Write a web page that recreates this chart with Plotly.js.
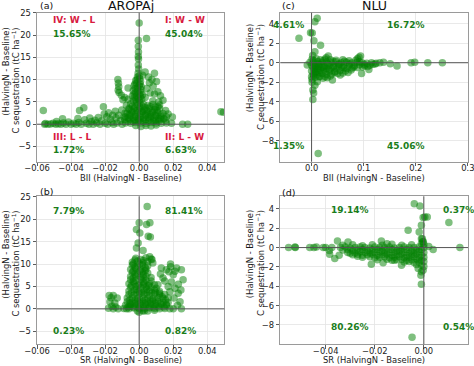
<!DOCTYPE html>
<html>
<head>
<meta charset="utf-8">
<script src="https://cdn.plot.ly/plotly-3.0.1.min.js"></script>
<style>html,body{margin:0;padding:0;background:#fff}#chart{width:474px;height:366px}</style>
</head>
<body>
<div id="chart"></div>
<script>
// ---- data: [x, y] pairs ----
// (a) AROPAj : BII change vs C sequestration change
const aropajBII = [
 [-0.0563,3.1],[-0.0555,0.0],[-0.055,0.15],[-0.0535,0.0],[-0.052,0.05],[-0.0505,0.2],[-0.049,0.0],[-0.0485,0.6],[-0.0475,0.1],[-0.046,0.0],[-0.045,1.2],[-0.0445,0.3],[-0.043,0.0],[-0.0415,0.5],[-0.04,0.0],[-0.0385,0.2],[-0.037,0.0],[-0.036,1.3],[-0.0355,0.4],[-0.035,3.1],[-0.034,0.0],[-0.0325,3.7],[-0.032,1.0],[-0.031,0.2],[-0.0295,0.0],[-0.029,1.4],[-0.028,0.6],[-0.027,0.0],[-0.026,0.9],[-0.025,0.3],[-0.024,1.5],[-0.023,0.0],[-0.022,0.8],[-0.021,3.9],[-0.0205,2.3],[-0.02,0.2],[-0.019,1.7],[-0.0185,0.0],[-0.018,2.6],[-0.017,1.1],[-0.016,0.4],[-0.0155,2.0],[-0.015,0.0],[-0.014,2.9],[-0.0135,1.4],[-0.013,0.3],[-0.012,2.0],[-0.011,0.8],[-0.0102,3.2],[-0.01,0.0],[-0.009,1.6],[-0.0082,2.5],
 [-0.0125,10.0],[-0.0122,9.2],[-0.012,8.4],[-0.0123,7.6],[-0.0118,7.1],[-0.0105,6.5],[-0.0095,5.5],[-0.0085,6.0],[-0.0075,4.2],[-0.0065,8.1],[-0.0065,5.6],[-0.006,3.5],[-0.005,4.6],
 [0.0,22.7],[-0.0005,18.8],[-0.0005,17.4],[-0.0004,16.2],[-0.0005,15.2],[-0.0004,14.6],[-0.0005,13.3],[-0.0003,12.4],[-0.0006,11.4],[-0.001,10.6],[0.0003,10.2],[-0.002,9.8],[-0.0015,9.2],[0.0005,9.0],[-0.003,8.6],[-0.001,8.2],[0.001,7.8],[-0.0035,7.5],[-0.002,7.1],[0.0,6.8],[0.002,6.6],[-0.004,6.3],[-0.0025,6.0],[-0.0005,5.8],[0.0015,5.6],[-0.0035,5.2],[-0.0015,5.0],[0.0005,4.8],[0.0025,4.5],
 [0.0,10.8],[-0.0012,10.0],[0.0008,9.6],[-0.0025,9.0],[0.0,8.6],[-0.0022,8.0],[0.0012,8.4],[-0.0008,7.4],[-0.003,6.8],[0.001,7.1],[-0.0015,6.4],[0.0008,6.2],[-0.002,5.5],[0.0,5.3],
 [0.0043,19.2],[0.0035,11.7],[0.002,11.0],[0.0055,10.6],[0.009,11.4],[0.0075,10.0],[0.0102,9.6],[0.0082,8.5],[0.006,9.3],[0.011,7.3],[0.0045,8.0],[0.0125,6.4],[0.009,6.8],[0.014,5.4],[0.0065,7.0],[0.0155,3.1],[0.0115,5.0],[0.017,2.3],[0.0195,1.6],[0.0255,0.0],[0.0285,0.0],[0.048,2.8],[0.0495,2.7],[0.0035,6.0],[0.008,5.2],[0.012,4.3],
 [-0.004,4.1],[-0.001,4.3],[0.002,4.0],[0.005,4.2],[0.008,4.4],[0.011,3.9],
 [-0.006,3.3],[-0.003,3.5],[0.0,3.4],[0.003,3.2],[0.006,3.6],[0.009,3.3],[0.012,3.5],
 [-0.007,2.5],[-0.004,2.7],[-0.001,2.6],[0.002,2.8],[0.005,2.5],[0.008,2.7],[0.011,2.6],[0.014,2.4],
 [-0.008,1.7],[-0.005,1.9],[-0.002,1.8],[0.001,1.7],[0.004,2.0],[0.007,1.8],[0.01,1.9],[0.013,1.7],[0.016,1.6],
 [-0.0085,1.0],[-0.0055,1.1],[-0.0025,0.9],[0.0005,1.1],[0.0035,1.0],[0.0065,1.2],[0.0095,0.9],[0.0125,1.1],[0.0155,0.9],
 [-0.008,0.3],[-0.005,0.2],[-0.002,0.4],[0.001,0.3],[0.004,0.2],[0.007,0.4],[0.01,0.3],[0.013,0.2],[0.016,0.3],[0.019,0.2],
 [-0.002,-0.3],[0.001,-0.5],[0.004,-0.3],[0.007,-0.4],[0.01,-0.2],
 [-0.0065,0.7],[-0.0035,0.6],[-0.0005,0.7],[0.0025,0.6],[0.0055,0.7],[0.0085,0.6],[0.0115,0.7],
 [-0.0065,1.4],[-0.0035,1.4],[-0.0005,1.3],[0.0025,1.4],[0.0055,1.5],[0.0085,1.4],[0.0115,1.3],[0.0145,1.2],
 [-0.0055,2.2],[-0.0025,2.2],[0.0005,2.3],[0.0035,2.2],[0.0065,2.2],[0.0095,2.1],[0.0125,2.0],
 [-0.0045,3.0],[-0.0015,3.0],[0.0015,2.9],[0.0045,3.0],[0.0075,2.9],[0.0105,3.0],
 [-0.0025,3.8],[0.0005,3.8],[0.0035,3.7],[0.0065,3.9],[0.0095,3.8]
];
// (b) AROPAj : SR change vs C sequestration change
const aropajSR = [
 [0.0047,22.8],[0.0,19.2],[0.0063,19.2],[0.0043,18.8],[-0.0016,17.7],[0.0004,16.9],[0.0053,16.2],[0.0066,16.0],[-0.0006,14.7],[-0.0016,13.6],[0.0023,13.0],[0.0062,11.6],[0.0075,11.0],
 [0.0184,10.0],[0.013,9.1],[0.016,8.7],[0.022,9.1],[0.0248,8.7],[0.020,7.6],[0.0258,6.5],[0.014,6.9],[0.011,5.4],[0.017,5.0],[0.021,4.6],[0.0229,3.5],[0.024,1.6],[0.0248,0.0],[0.020,0.0],[0.016,0.9],[0.0185,9.4],[0.019,6.0],[0.023,5.5],[0.0205,2.4],[0.018,3.8],[0.0225,0.8],[0.0125,7.8],[0.015,6.2],[0.0175,8.3],[0.021,8.4],[0.0245,4.2],[0.012,3.5],[0.0155,2.0],
 [-0.0176,3.0],[-0.0152,3.0],[-0.0129,2.4],[-0.0172,1.6],[-0.0143,1.3],[-0.018,0.15],[-0.0152,0.0],[-0.0123,0.0],[-0.0165,2.5],[-0.016,0.6],[-0.0138,0.4],
 [-0.0074,0.0],[-0.0055,0.5],[0.0,-0.75],[0.003,-0.5],[0.009,-0.3],
 [-0.002,11.3],[0.001,11.0],[0.004,11.4],[0.007,11.1],
 [-0.004,10.4],[-0.001,10.6],[0.002,10.3],[0.005,10.5],[0.008,10.2],
 [-0.004,9.7],[-0.001,9.5],[0.002,9.8],[0.005,9.6],
 [-0.005,8.8],[-0.002,9.0],[0.001,8.7],[0.004,8.9],
 [-0.004,8.1],[-0.001,7.9],[0.002,8.2],[0.005,8.0],
 [-0.005,7.2],[-0.002,7.4],[0.001,7.1],[0.004,7.3],[0.007,7.0],
 [-0.005,6.5],[-0.002,6.3],[0.001,6.6],[0.004,6.4],[0.007,6.2],
 [-0.006,5.6],[-0.003,5.8],[0.0,5.5],[0.003,5.7],[0.006,5.6],[0.009,5.4],
 [-0.005,4.8],[-0.002,5.0],[0.001,4.7],[0.004,4.9],[0.007,4.8],[0.01,4.6],
 [-0.006,4.0],[-0.003,4.2],[0.0,3.9],[0.003,4.1],[0.006,4.0],[0.009,4.2],[0.012,3.9],
 [-0.006,3.2],[-0.003,3.1],[0.0,3.3],[0.003,3.2],[0.006,3.0],[0.009,3.3],[0.012,3.1],[0.015,3.2],
 [-0.007,2.4],[-0.004,2.5],[-0.001,2.3],[0.002,2.5],[0.005,2.4],[0.008,2.2],[0.011,2.5],[0.014,2.3],[0.017,2.4],
 [-0.007,1.6],[-0.004,1.5],[-0.001,1.7],[0.002,1.6],[0.005,1.5],[0.008,1.7],[0.011,1.6],[0.014,1.5],[0.017,1.4],
 [-0.008,0.8],[-0.005,0.9],[-0.002,0.7],[0.001,0.8],[0.004,0.9],[0.007,0.8],[0.01,0.7],[0.013,0.9],[0.016,0.8],
 [-0.009,0.1],[-0.006,0.0],[-0.003,0.2],[0.0,0.1],[0.003,0.0],[0.006,0.2],[0.009,0.1],[0.012,0.0],[0.015,0.1],[0.018,0.0],
 [-0.001,-0.5],[0.002,-0.4],[0.005,-0.5],
 [-0.0035,10.0],[0.0005,10.0],[0.0035,9.2],[-0.0035,8.4],[0.0005,8.4],[-0.0035,6.8],[0.0025,6.9],[-0.0045,5.2],[-0.0005,5.2],[0.0025,5.3],[0.0055,5.2],[-0.0045,3.6],[-0.0015,3.6],[0.0015,3.6],[0.0045,3.6],[0.0075,3.6],[-0.0055,2.0],[-0.0025,2.0],[0.0005,2.0],[0.0035,2.0],[0.0065,2.0],[0.0095,2.0],[-0.0055,1.2],[-0.0025,1.2],[0.0005,1.2],[0.0035,1.2],[0.0065,1.2],[0.0095,1.2],[0.0125,1.2],[-0.0065,0.4],[-0.0035,0.4],[-0.0005,0.4],[0.0025,0.4],[0.0055,0.4],[0.0085,0.4],[0.0115,0.4],[0.0145,0.4],
 [-0.0025,10.9],[0.0025,10.8],[-0.0025,9.3],[0.0035,8.5],[-0.0025,7.7],[0.0025,7.6],[-0.0035,6.1],[0.0025,6.0],[-0.0015,4.4],[0.0045,4.4],[0.0095,3.7],[0.0135,2.7]
];
// (c) NLU : BII change vs C sequestration change
const nluBII = [
 [0.0108,4.55],[0.0064,4.2],[-0.002,3.08],[0.0013,3.05],[-0.0242,2.5],[0.0045,2.26],[0.0172,1.8],[0.0064,1.13],[0.002,0.75],[-0.0083,-0.24],[0.032,0.68],[0.028,0.5],[0.094,0.7],[0.091,0.55],[0.088,0.4],[0.122,-0.14],[0.131,0.0],[0.138,0.05],[0.151,-0.1],[0.164,-0.34],[0.191,0.0],[0.198,0.05],[0.223,0.0],[0.251,0.0],[0.014,-1.44],[0.011,-1.95],[0.0064,-2.3],[0.0025,-2.8],[0.004,-3.1],[0.0025,-3.76],[0.0127,-9.3],[0.04,-1.78],[0.03,-1.55],[0.096,-1.1],[0.07,-1.0],[0.11,-0.7],[0.022,-1.6],[0.001,-2.0],[0.001,-1.7],
 [0.001,0.35],[0.009,0.4],[0.017,0.3],[0.026,0.35],[0.036,0.3],[0.047,0.25],[0.06,0.3],[0.072,0.2],[0.085,0.25],
 [-0.003,0.05],[0.004,0.0],[0.012,0.1],[0.02,0.0],[0.029,0.05],[0.038,0.0],[0.047,0.1],[0.057,0.0],[0.067,0.05],[0.077,0.0],[0.087,0.05],[0.097,0.0],[0.106,-0.05],[0.115,0.0],[0.124,-0.05],
 [0.0,-0.25],[0.008,-0.3],[0.016,-0.2],[0.025,-0.3],[0.034,-0.25],[0.043,-0.3],[0.052,-0.2],[0.062,-0.3],[0.072,-0.25],[0.082,-0.3],[0.092,-0.2],[0.102,-0.3],[0.112,-0.25],
 [0.003,-0.55],[0.011,-0.6],[0.02,-0.5],[0.029,-0.6],[0.038,-0.55],[0.048,-0.6],[0.058,-0.5],[0.068,-0.6],[0.078,-0.55],[0.088,-0.5],[0.098,-0.45],
 [0.0,-0.85],[0.008,-0.9],[0.017,-0.8],[0.026,-0.9],[0.035,-0.85],[0.045,-0.9],[0.055,-0.8],[0.065,-0.85],[0.076,-0.75],
 [0.003,-1.15],[0.011,-1.2],[0.02,-1.1],[0.029,-1.2],[0.039,-1.15],[0.05,-1.1],[0.06,-1.05],
 [0.0,-1.45],[0.007,-1.5],[0.016,-1.4],[0.026,-1.45],[0.036,-1.35],
 [0.004,0.2],[0.006,-0.4],[0.005,-0.7],[0.006,-1.0],[0.004,-1.3],[0.013,-0.1],[0.014,-0.4],[0.013,-0.7],[0.015,-1.0],[0.022,0.2],[0.024,-0.45],[0.023,-0.75],[0.031,-0.1],[0.033,-0.7],[0.041,0.15],[0.042,-0.45],[0.052,-0.4],[0.063,0.15],
 [0.053,-0.1],[0.062,-0.55],[0.073,-0.1],[0.081,-0.45],[0.092,0.1],[0.101,-0.15],[0.108,-0.4],[0.118,-0.15],[0.044,-1.0],[0.055,-1.25]
];
// (d) NLU : SR change vs C sequestration change
const nluSR = [
 [-0.0039,4.54],[-0.0016,4.3],[0.0004,3.16],[0.0014,3.16],[-0.0003,3.1],[-0.001,2.3],[-0.0064,1.8],[-0.0019,1.6],[0.0102,2.58],[0.0147,0.0],[0.0038,-0.2],[0.002,0.1],[-0.0551,0.0],[-0.0524,0.0],[-0.0525,0.05],[-0.0465,0.0],[-0.0448,0.0],[-0.0438,0.05],[-0.041,0.0],[-0.04,0.0],[-0.0385,-0.3],[-0.0375,0.0],[-0.0352,0.69],[-0.0309,0.58],[-0.0173,0.69],[-0.015,0.4],[-0.0363,-1.13],[-0.0384,-0.69],[-0.0345,-0.8],[-0.0214,-1.72],[-0.0166,-1.58],[-0.0091,-1.82],[-0.0023,-2.16],[-0.001,-2.5],[-0.0012,-2.85],[-0.001,-3.78],[-0.0048,-9.28],[-0.0003,-2.34],[-0.0006,0.9],[-0.0002,0.6],[-0.027,-0.9],[-0.03,-0.6],[-0.012,-1.3],
 [-0.033,0.25],[-0.029,0.3],[-0.025,0.2],[-0.021,0.3],[-0.017,0.25],[-0.013,0.35],[-0.009,0.25],[-0.005,0.3],[-0.001,0.4],
 [-0.034,0.0],[-0.032,0.05],[-0.03,-0.05],[-0.028,0.0],[-0.026,0.05],[-0.024,0.0],[-0.022,-0.05],[-0.02,0.05],[-0.018,0.0],[-0.016,0.0],[-0.014,0.05],[-0.012,-0.05],[-0.01,0.0],[-0.008,0.05],[-0.006,0.0],[-0.004,0.0],[-0.002,0.05],[0.0,0.0],
 [-0.033,-0.25],[-0.031,-0.2],[-0.029,-0.3],[-0.027,-0.25],[-0.025,-0.2],[-0.023,-0.3],[-0.021,-0.25],[-0.019,-0.2],[-0.017,-0.3],[-0.015,-0.25],[-0.013,-0.2],[-0.011,-0.3],[-0.009,-0.25],[-0.007,-0.2],[-0.005,-0.3],[-0.003,-0.25],[-0.001,-0.2],
 [-0.031,-0.5],[-0.028,-0.55],[-0.026,-0.45],[-0.024,-0.5],[-0.022,-0.55],[-0.02,-0.5],[-0.018,-0.45],[-0.016,-0.5],[-0.014,-0.55],[-0.012,-0.5],[-0.01,-0.45],[-0.008,-0.5],[-0.006,-0.55],[-0.004,-0.5],[-0.002,-0.45],[0.0,-0.5],
 [-0.029,-0.75],[-0.027,-0.7],[-0.025,-0.8],[-0.023,-0.75],[-0.021,-0.7],[-0.019,-0.8],[-0.017,-0.75],[-0.015,-0.7],[-0.013,-0.8],[-0.011,-0.75],[-0.009,-0.7],[-0.007,-0.8],[-0.005,-0.75],[-0.003,-0.7],[-0.001,-0.8],
 [-0.025,-1.0],[-0.022,-0.95],[-0.02,-1.05],[-0.018,-1.0],[-0.016,-0.95],[-0.014,-1.05],[-0.012,-1.0],[-0.01,-0.95],[-0.008,-1.05],[-0.006,-1.0],[-0.004,-0.95],[-0.002,-1.05],[0.0,-1.0],
 [-0.019,-1.25],[-0.015,-1.2],[-0.013,-1.3],[-0.011,-1.25],[-0.009,-1.2],[-0.007,-1.3],[-0.005,-1.25],[-0.003,-1.2],[-0.001,-1.3],
 [-0.008,-1.5],[-0.006,-1.45],[-0.004,-1.55],[-0.002,-1.5],[0.0,-1.45],
 [-0.003,-1.75],[-0.001,-1.8],[0.0,-1.95],
 [-0.0005,0.6],[-0.001,0.9],[0.0,0.35]
];

const panelTitles = ['AROPAj', 'NLU'];
const panelLetters = ['(a)', '(c)', '(b)', '(d)'];
const quadrantNames = ['IV: W - L', 'I: W - W', 'III: L - L', 'II: L - W'];
// shares per quadrant: [top-left, top-right, bottom-left, bottom-right]
const sharesA = ['15.65%', '45.04%', '1.72%', '6.63%'];
const sharesB = ['7.79%', '81.41%', '0.23%', '0.82%'];
const sharesC = ['4.61%', '16.72%', '1.35%', '45.06%'];
const sharesD = ['19.14%', '0.37%', '80.26%', '0.54%'];
const xLabelBII = 'BII (HalvingN - Baseline)';
const xLabelSR = 'SR (HalvingN - Baseline)';
const yLabel = '(HalvingN - Baseline)<br>C sequestration (tC ha<sup>−1</sup>)';

// ---- layout helpers ----
const W = 474, H = 366;
const px = v => v / W;
const py = v => 1 - v / H;
const FONT = 'DejaVu Sans, Liberation Sans, sans-serif';
const GREEN = '#1a7d1a';
const RED = '#d81b3f';

function scatter(pts, xa, ya) {
  return {
    type: 'scatter', mode: 'markers',
    x: pts.map(p => p[0]), y: pts.map(p => p[1]),
    xaxis: xa, yaxis: ya,
    marker: {color: '#008000', opacity: 0.5, size: 7.5, line: {width: 0}},
    hoverinfo: 'skip', showlegend: false
  };
}
const data = [
  scatter(aropajBII, 'x', 'y'),
  scatter(nluBII, 'x2', 'y2'),
  scatter(aropajSR, 'x3', 'y3'),
  scatter(nluSR, 'x4', 'y4')
];

const axBase = {
  showline: true, mirror: true, linecolor: '#9a9a9a', linewidth: 1,
  showgrid: true, gridcolor: '#e3e3e3', gridwidth: 0.8,
  zeroline: false, ticks: 'outside', ticklen: 3.5, tickwidth: 0.8, tickcolor: '#333',
  tickfont: {family: FONT, size: 8.4, color: '#1a1a1a'},
  ticklabeloverflow: 'allow',
  automargin: false, fixedrange: true
};
const xBase = Object.assign({}, axBase, {ticklabelstandoff: -5});
const colL = [px(37), px(224.3)], colR = [px(280.3), px(468)];
const rowT = [py(161.7), py(12.7)], rowB = [py(344.3), py(196.3)];

const layout = {
  width: W, height: H,
  margin: {l: 0, r: 0, t: 0, b: 0},
  paper_bgcolor: '#fff', plot_bgcolor: '#fff',
  showlegend: false,
  xaxis: Object.assign({}, xBase, {domain: colL, anchor: 'y', range: [-0.06, 0.05], tickvals: [-0.06,-0.04,-0.02,0,0.02,0.04], tickformat: '.2f'}),
  yaxis: Object.assign({}, axBase, {domain: rowT, anchor: 'x', range: [-8.4, 25], dtick: 5}),
  xaxis2: Object.assign({}, xBase, {domain: colR, anchor: 'y2', range: [-0.06, 0.3002], tickvals: [0, 0.1, 0.2, 0.3], tickformat: '.1f'}),
  yaxis2: Object.assign({}, axBase, {domain: rowT, anchor: 'x2', range: [-10.15, 5.13], tickvals: [-8,-6,-4,-2,0,2,4]}),
  xaxis3: Object.assign({}, xBase, {domain: colL, anchor: 'y3', range: [-0.06, 0.05], tickvals: [-0.06,-0.04,-0.02,0,0.02,0.04], tickformat: '.2f'}),
  yaxis3: Object.assign({}, axBase, {domain: rowB, anchor: 'x3', range: [-7.9, 25.1], dtick: 5}),
  xaxis4: Object.assign({}, xBase, {domain: colR, anchor: 'y4', range: [-0.0585, 0.018], tickvals: [-0.04,-0.02,0], tickformat: '.2f'}),
  yaxis4: Object.assign({}, axBase, {domain: rowB, anchor: 'x4', range: [-10, 5.3], tickvals: [-8,-6,-4,-2,0,2,4]}),
  shapes: [],
  annotations: []
};

// reference lines at x = 0 and y = 0 in every panel
[['x','y'],['x2','y2'],['x3','y3'],['x4','y4']].forEach(([xa, ya]) => {
  layout.shapes.push({type: 'line', xref: xa, yref: ya + ' domain', x0: 0, x1: 0, y0: 0, y1: 1, line: {color: '#555', width: 1}, layer: 'above'});
  layout.shapes.push({type: 'line', xref: xa + ' domain', yref: ya, x0: 0, x1: 1, y0: 0, y1: 0, line: {color: '#555', width: 1}, layer: 'above'});
});

function txt(text, x, y, opts) {
  layout.annotations.push(Object.assign({
    text: text, xref: 'paper', yref: 'paper', x: px(x), y: py(y),
    showarrow: false, xanchor: 'left', yanchor: 'middle',
    font: {family: FONT, size: 9, color: '#111'}
  }, opts || {}));
}

// titles
txt(panelTitles[0], 130.7, 5.5, {xanchor: 'center', font: {family: FONT, size: 12.6, color: '#111'}});
txt(panelTitles[1], 374, 5.5, {xanchor: 'center', font: {family: FONT, size: 12.6, color: '#111'}});
// panel letters
txt(panelLetters[0], 37.5, 5, {font: {family: FONT, size: 9.5, color: '#111'}});
txt(panelLetters[1], 279.5, 5, {font: {family: FONT, size: 9.5, color: '#111'}});
txt(panelLetters[2], 37.5, 191, {font: {family: FONT, size: 9.5, color: '#111'}});
txt(panelLetters[3], 279.5, 192, {font: {family: FONT, size: 9.5, color: '#111'}});
// x labels
const xlf = {family: FONT, size: 8.4, color: '#1a1a1a'};
txt(xLabelBII, 130.7, 177.5, {xanchor: 'center', font: xlf});
txt(xLabelBII, 374, 177.5, {xanchor: 'center', font: xlf});
txt(xLabelSR, 130.7, 359.5, {xanchor: 'center', font: xlf});
txt(xLabelSR, 374, 359.5, {xanchor: 'center', font: xlf});
// y labels
const ylf = {family: FONT, size: 8.4, color: '#1a1a1a'};
txt(yLabel, 10.5, 81, {xanchor: 'center', textangle: -90, align: 'right', font: ylf});
txt(yLabel, 255, 77, {xanchor: 'center', textangle: -90, align: 'right', font: ylf});
txt(yLabel, 10.5, 264, {xanchor: 'center', textangle: -90, align: 'right', font: ylf});
txt(yLabel, 255, 263, {xanchor: 'center', textangle: -90, align: 'right', font: ylf});

// quadrant names (panel a)
const qf = {family: FONT, size: 9, color: RED};
txt('<b>' + quadrantNames[0] + '</b>', 51, 20, {font: qf});
txt('<b>' + quadrantNames[1] + '</b>', 162.5, 20, {font: qf});
txt('<b>' + quadrantNames[2] + '</b>', 51, 137, {font: qf});
txt('<b>' + quadrantNames[3] + '</b>', 162.5, 137, {font: qf});

// shares
const gf = {family: FONT, size: 9, color: GREEN};
function shares(arr, xl, xr, yt, yb) {
  txt('<b>' + arr[0] + '</b>', xl, yt, {font: gf});
  txt('<b>' + arr[1] + '</b>', xr, yt, {font: gf});
  txt('<b>' + arr[2] + '</b>', xl, yb, {font: gf});
  txt('<b>' + arr[3] + '</b>', xr, yb, {font: gf});
}
shares(sharesA, 51, 162.5, 33.5, 150);
shares(sharesB, 51, 162.5, 210.5, 331.3);
shares(sharesC, 271, 384.5, 25, 145.7);
shares(sharesD, 329, 440.5, 210, 326.7);

Plotly.newPlot('chart', data, layout, {staticPlot: true, displayModeBar: false});
</script>
</body>
</html>
